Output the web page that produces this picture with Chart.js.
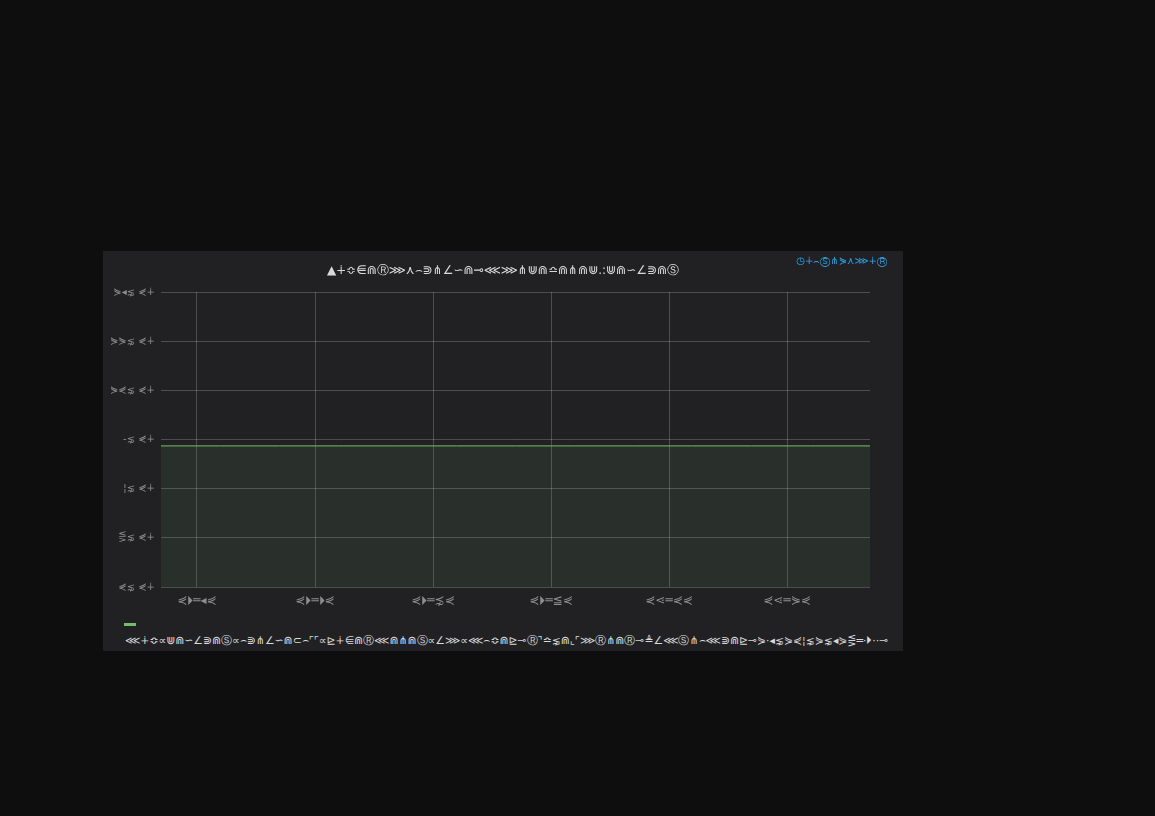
<!DOCTYPE html>
<html>
<head>
<meta charset="utf-8">
<script src="https://cdn.jsdelivr.net/npm/chart.js@4.4.1/dist/chart.umd.min.js"></script>
<style>
  html, body { margin: 0; padding: 0; background: #0e0e0e; width: 1155px; height: 816px; overflow: hidden; }
  #panel { position: absolute; left: 103px; top: 251px; width: 800px; height: 400px; background: #212124; }
  #chartBox { position: absolute; left: 0; top: 0; width: 800px; height: 360px; }
  #title { position: absolute; left: 0; top: 11px; width: 800px; text-align: center; font: 12px "DejaVu Sans"; color: #d8d9da; }
  #link { position: absolute; right: 16px; top: 4px; font: 10px "DejaVu Sans"; color: #33a2e5; }
  #swatch { position: absolute; left: 21px; top: 372px; width: 12px; height: 3px; background: #73bf69; }
  #legend { position: absolute; left: 22px; top: 383px; font: 10.8px "DejaVu Sans"; color: #d8d9da; white-space: nowrap; }
</style>
</head>
<body>
<div id="panel">
  <div id="chartBox"><canvas id="chart"></canvas></div>
  <div id="title"></div>
  <div id="link"></div>
  <div id="swatch"></div>
  <div id="legend"></div>
</div>
<script>
var titleText = '▲∔≎⋹⋒Ⓡ⋙⋏⌢⋑⋔∠∽⋒⊸⋘⋙⋔⋓⋒≏⋒⋔⋒⋓.:⋓⋒∽∠⋑⋒Ⓢ';
var linkText = '◷∔⌢Ⓢ⋔⋟⋏⋙∔Ⓡ';
var seriesName = '⋘∔≎∝⋓⋒∽∠⋑⋒Ⓢ∝⌢⋑⋔∠∽⋒⊂⌢⌜⌜∝⊵∔⋹⋒Ⓡ⋘⋒⋔⋒Ⓢ∝∠⋙∝⋘⌢≎⋒⊵⊸Ⓡ⌝≏⋦⋒⌞⌜⋙Ⓡ⋔⋒Ⓡ⊸≜∠⋘Ⓢ⋔⌢⋘⋑⋒⊵⊸⋟·◂⋦⋟⋞¦⋦⋟⋦◂⋟⋚═·⏵··⊸';

// time in minutes, one sample every 5 min
var times = [16.95, 22, 27, 32, 37, 42, 47, 52, 57, 62, 67, 72, 77.03];
var values = [57.4, 57.4, 57.4, 57.4, 57.4, 57.4, 57.4, 57.4, 57.4, 57.4, 57.4, 57.4, 57.4];

var xTickValues = [20, 30, 40, 50, 60, 70];
var xTickLabels = ['⋞⏵═◂⋞', '⋞⏵═⏵⋞', '⋞⏵═⋨⋞', '⋞⏵═≦⋞', '⋞⋖═⋞⋞', '⋞⋖═⋟⋞'];
var yTickValues = [0, 20, 40, 60, 80, 100, 120];
var yTickLabels = ['⋞⋦ ⋞∔', '⋚⋦ ⋞∔', '¦⋦ ⋞∔', '-⋦ ⋞∔', '⋟⋞⋦ ⋞∔', '⋟⋟⋦ ⋞∔', '⋟◂⋦ ⋞∔'];

document.getElementById('title').textContent = titleText;
document.getElementById('link').textContent = linkText;
document.getElementById('legend').textContent = seriesName;

var points = [];
for (var i = 0; i < times.length; i++) {
  points.push({ x: times[i], y: values[i] });
}

var ctx = document.getElementById('chart');
var myChart = new Chart(ctx, {
  type: 'line',
  data: {
    datasets: [{
      label: seriesName,
      data: points,
      borderColor: '#73bf69',
      borderWidth: 1,
      backgroundColor: 'rgba(115,191,105,0.1)',
      fill: 'origin',
      pointRadius: 0,
      tension: 0
    }]
  },
  options: {
    animation: false,
    responsive: true,
    maintainAspectRatio: false,
    layout: { padding: { left: 0, right: 33, top: 41, bottom: 0 } },
    plugins: {
      legend: { display: false },
      tooltip: { enabled: false },
      title: { display: false }
    },
    scales: {
      x: {
        type: 'linear',
        min: times[0],
        max: times[times.length - 1],
        afterBuildTicks: function(scale) {
          scale.ticks = xTickValues.map(function(v) { return { value: v }; });
        },
        afterFit: function(scale) { scale.height = 24; },
        border: { display: false },
        grid: { color: 'rgba(255,255,255,0.2)', drawTicks: false },
        ticks: {
          color: '#8e8e8e',
          padding: 7,
          maxRotation: 0,
          font: { family: 'DejaVu Sans', size: 12 },
          callback: function(v) {
            var k = xTickValues.indexOf(v);
            return k >= 0 ? xTickLabels[k] : '';
          }
        }
      },
      y: {
        min: 0,
        max: 120,
        afterBuildTicks: function(scale) {
          scale.ticks = yTickValues.map(function(v) { return { value: v }; });
        },
        afterFit: function(scale) { scale.width = 58; },
        border: { display: false },
        grid: { color: 'rgba(255,255,255,0.2)', drawTicks: false },
        ticks: {
          color: '#8e8e8e',
          padding: 6,
          font: { family: 'DejaVu Sans', size: 10 },
          callback: function(v) {
            var k = yTickValues.indexOf(v);
            return k >= 0 ? yTickLabels[k] : '';
          }
        }
      }
    }
  }
});
</script>
</body>
</html>
